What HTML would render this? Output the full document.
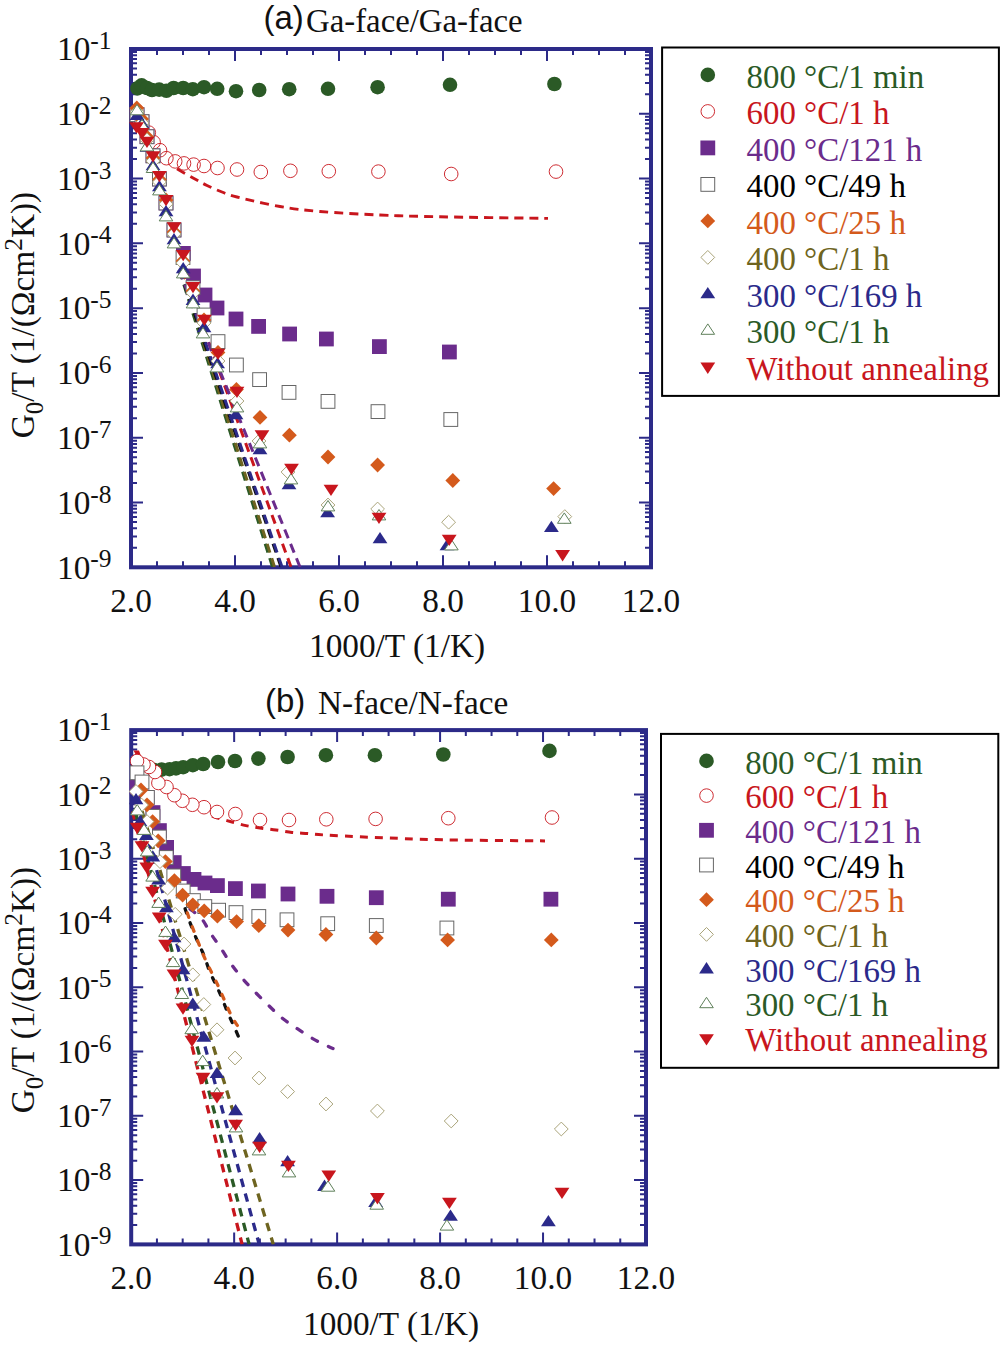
<!DOCTYPE html><html><head><meta charset="utf-8"><style>
html,body{margin:0;padding:0;background:#fff;}
svg{display:block}
.s{font-family:"Liberation Serif",serif;font-size:33.3px;fill:#111}
.ss{font-family:"Liberation Sans",sans-serif;font-size:33px;fill:#111}
.sup{font-size:25.5px} .lg{font-size:32.9px}
.sub{font-size:25px}
</style></head><body><svg width="1000" height="1345" viewBox="0 0 1000 1345">
<rect width="1000" height="1345" fill="#fff"/>
<rect x="662.1" y="47.5" width="336.80" height="348.40" fill="#fff" stroke="#000" stroke-width="2"/>
<circle cx="707.80" cy="74.90" r="7.30" fill="#2b5a26"/>
<text x="746.5" y="87.50" class="s lg" style="fill:#2b5a26">800 °C/1 min</text>
<circle cx="707.80" cy="111.40" r="6.80" fill="none" stroke="#c8161d" stroke-width="0.9"/>
<text x="746.5" y="124.00" class="s lg" style="fill:#c8161d">600 °C/1 h</text>
<rect x="700.40" y="140.50" width="14.80" height="14.80" fill="#6b2c8c"/>
<text x="746.5" y="160.50" class="s lg" style="fill:#6b2c8c">400 °C/121 h</text>
<rect x="700.90" y="177.50" width="13.80" height="13.80" fill="none" stroke="#666" stroke-width="1"/>
<text x="746.5" y="197.00" class="s lg" style="fill:#000">400 °C/49 h</text>
<path d="M707.80 213.50L715.20 220.90L707.80 228.30L700.40 220.90Z" fill="#d45a1c"/>
<text x="746.5" y="233.50" class="s lg" style="fill:#d45a1c">400 °C/25 h</text>
<path d="M707.80 250.50L714.70 257.40L707.80 264.30L700.90 257.40Z" fill="#fff" stroke="#aaa47a" stroke-width="1"/>
<text x="746.5" y="270.00" class="s lg" style="fill:#6e6420">400 °C/1 h</text>
<path d="M707.80 286.90L715.20 298.20L700.40 298.20Z" fill="#2b2a8a"/>
<text x="746.5" y="306.50" class="s lg" style="fill:#2b2a8a">300 °C/169 h</text>
<path d="M707.80 323.90L714.60 334.30L701.00 334.30Z" fill="#fff" stroke="#5f805a" stroke-width="1"/>
<text x="746.5" y="343.00" class="s lg" style="fill:#2b5a26">300 °C/1 h</text>
<path d="M707.80 373.90L715.20 362.60L700.40 362.60Z" fill="#c8161d"/>
<text x="746.5" y="379.50" class="s lg" style="fill:#c8161d">Without annealing</text>
<rect x="661" y="733.9" width="337.30" height="333.90" fill="#fff" stroke="#000" stroke-width="2"/>
<circle cx="706.50" cy="760.90" r="7.30" fill="#2b5a26"/>
<text x="745.2" y="773.50" class="s lg" style="fill:#2b5a26">800 °C/1 min</text>
<circle cx="706.50" cy="795.60" r="6.80" fill="none" stroke="#c8161d" stroke-width="0.9"/>
<text x="745.2" y="808.20" class="s lg" style="fill:#c8161d">600 °C/1 h</text>
<rect x="699.10" y="822.90" width="14.80" height="14.80" fill="#6b2c8c"/>
<text x="745.2" y="842.90" class="s lg" style="fill:#6b2c8c">400 °C/121 h</text>
<rect x="699.60" y="858.10" width="13.80" height="13.80" fill="none" stroke="#666" stroke-width="1"/>
<text x="745.2" y="877.60" class="s lg" style="fill:#000">400 °C/49 h</text>
<path d="M706.50 892.30L713.90 899.70L706.50 907.10L699.10 899.70Z" fill="#d45a1c"/>
<text x="745.2" y="912.30" class="s lg" style="fill:#d45a1c">400 °C/25 h</text>
<path d="M706.50 927.50L713.40 934.40L706.50 941.30L699.60 934.40Z" fill="#fff" stroke="#aaa47a" stroke-width="1"/>
<text x="745.2" y="947.00" class="s lg" style="fill:#6e6420">400 °C/1 h</text>
<path d="M706.50 962.10L713.90 973.40L699.10 973.40Z" fill="#2b2a8a"/>
<text x="745.2" y="981.70" class="s lg" style="fill:#2b2a8a">300 °C/169 h</text>
<path d="M706.50 997.30L713.30 1007.70L699.70 1007.70Z" fill="#fff" stroke="#5f805a" stroke-width="1"/>
<text x="745.2" y="1016.40" class="s lg" style="fill:#2b5a26">300 °C/1 h</text>
<path d="M706.50 1045.50L713.90 1034.20L699.10 1034.20Z" fill="#c8161d"/>
<text x="745.2" y="1051.10" class="s lg" style="fill:#c8161d">Without annealing</text>
<path d="M157.00 49v6M157.00 567.3v-6M183.00 49v6M183.00 567.3v-6M209.00 49v6M209.00 567.3v-6M235.00 49v12M235.00 567.3v-12M261.00 49v6M261.00 567.3v-6M287.00 49v6M287.00 567.3v-6M313.00 49v6M313.00 567.3v-6M339.00 49v12M339.00 567.3v-12M365.00 49v6M365.00 567.3v-6M391.00 49v6M391.00 567.3v-6M417.00 49v6M417.00 567.3v-6M443.00 49v12M443.00 567.3v-12M469.00 49v6M469.00 567.3v-6M495.00 49v6M495.00 567.3v-6M521.00 49v6M521.00 567.3v-6M547.00 49v12M547.00 567.3v-12M573.00 49v6M573.00 567.3v-6M599.00 49v6M599.00 567.3v-6M625.00 49v6M625.00 567.3v-6M131 547.80h6M651 547.80h-6M131 536.39h6M651 536.39h-6M131 528.29h6M651 528.29h-6M131 522.02h6M651 522.02h-6M131 516.89h6M651 516.89h-6M131 512.55h6M651 512.55h-6M131 508.79h6M651 508.79h-6M131 505.48h6M651 505.48h-6M131 502.51h12M651 502.51h-12M131 483.01h6M651 483.01h-6M131 471.60h6M651 471.60h-6M131 463.51h6M651 463.51h-6M131 457.23h6M651 457.23h-6M131 452.10h6M651 452.10h-6M131 447.76h6M651 447.76h-6M131 444.00h6M651 444.00h-6M131 440.69h6M651 440.69h-6M131 437.72h12M651 437.72h-12M131 418.22h6M651 418.22h-6M131 406.81h6M651 406.81h-6M131 398.72h6M651 398.72h-6M131 392.44h6M651 392.44h-6M131 387.31h6M651 387.31h-6M131 382.97h6M651 382.97h-6M131 379.22h6M651 379.22h-6M131 375.90h6M651 375.90h-6M131 372.94h12M651 372.94h-12M131 353.43h6M651 353.43h-6M131 342.03h6M651 342.03h-6M131 333.93h6M651 333.93h-6M131 327.65h6M651 327.65h-6M131 322.52h6M651 322.52h-6M131 318.19h6M651 318.19h-6M131 314.43h6M651 314.43h-6M131 311.11h6M651 311.11h-6M131 308.15h12M651 308.15h-12M131 288.65h6M651 288.65h-6M131 277.24h6M651 277.24h-6M131 269.14h6M651 269.14h-6M131 262.87h6M651 262.87h-6M131 257.74h6M651 257.74h-6M131 253.40h6M651 253.40h-6M131 249.64h6M651 249.64h-6M131 246.33h6M651 246.33h-6M131 243.36h12M651 243.36h-12M131 223.86h6M651 223.86h-6M131 212.45h6M651 212.45h-6M131 204.36h6M651 204.36h-6M131 198.08h6M651 198.08h-6M131 192.95h6M651 192.95h-6M131 188.61h6M651 188.61h-6M131 184.85h6M651 184.85h-6M131 181.54h6M651 181.54h-6M131 178.57h12M651 178.57h-12M131 159.07h6M651 159.07h-6M131 147.66h6M651 147.66h-6M131 139.57h6M651 139.57h-6M131 133.29h6M651 133.29h-6M131 128.16h6M651 128.16h-6M131 123.82h6M651 123.82h-6M131 120.07h6M651 120.07h-6M131 116.75h6M651 116.75h-6M131 113.79h12M651 113.79h-12M131 94.28h6M651 94.28h-6M131 82.88h6M651 82.88h-6M131 74.78h6M651 74.78h-6M131 68.50h6M651 68.50h-6M131 63.37h6M651 63.37h-6M131 59.04h6M651 59.04h-6M131 55.28h6M651 55.28h-6M131 51.96h6M651 51.96h-6" stroke="#2c2a88" stroke-width="2" fill="none"/>
<rect x="131" y="49" width="520.00" height="518.30" stroke="#2c2a88" stroke-width="4" fill="none"/>
<path d="M156.94 730.1v6M156.94 1244.4v-6M182.68 730.1v6M182.68 1244.4v-6M208.42 730.1v6M208.42 1244.4v-6M234.16 730.1v12M234.16 1244.4v-12M259.90 730.1v6M259.90 1244.4v-6M285.64 730.1v6M285.64 1244.4v-6M311.38 730.1v6M311.38 1244.4v-6M337.12 730.1v12M337.12 1244.4v-12M362.86 730.1v6M362.86 1244.4v-6M388.60 730.1v6M388.60 1244.4v-6M414.34 730.1v6M414.34 1244.4v-6M440.08 730.1v12M440.08 1244.4v-12M465.82 730.1v6M465.82 1244.4v-6M491.56 730.1v6M491.56 1244.4v-6M517.30 730.1v6M517.30 1244.4v-6M543.04 730.1v12M543.04 1244.4v-12M568.78 730.1v6M568.78 1244.4v-6M594.52 730.1v6M594.52 1244.4v-6M620.26 730.1v6M620.26 1244.4v-6M131.2 1225.05h6M646 1225.05h-6M131.2 1213.73h6M646 1213.73h-6M131.2 1205.70h6M646 1205.70h-6M131.2 1199.46h6M646 1199.46h-6M131.2 1194.37h6M646 1194.37h-6M131.2 1190.07h6M646 1190.07h-6M131.2 1186.34h6M646 1186.34h-6M131.2 1183.05h6M646 1183.05h-6M131.2 1180.11h12M646 1180.11h-12M131.2 1160.76h6M646 1160.76h-6M131.2 1149.44h6M646 1149.44h-6M131.2 1141.41h6M646 1141.41h-6M131.2 1135.18h6M646 1135.18h-6M131.2 1130.09h6M646 1130.09h-6M131.2 1125.78h6M646 1125.78h-6M131.2 1122.06h6M646 1122.06h-6M131.2 1118.77h6M646 1118.77h-6M131.2 1115.83h12M646 1115.83h-12M131.2 1096.47h6M646 1096.47h-6M131.2 1085.15h6M646 1085.15h-6M131.2 1077.12h6M646 1077.12h-6M131.2 1070.89h6M646 1070.89h-6M131.2 1065.80h6M646 1065.80h-6M131.2 1061.50h6M646 1061.50h-6M131.2 1057.77h6M646 1057.77h-6M131.2 1054.48h6M646 1054.48h-6M131.2 1051.54h12M646 1051.54h-12M131.2 1032.19h6M646 1032.19h-6M131.2 1020.86h6M646 1020.86h-6M131.2 1012.83h6M646 1012.83h-6M131.2 1006.60h6M646 1006.60h-6M131.2 1001.51h6M646 1001.51h-6M131.2 997.21h6M646 997.21h-6M131.2 993.48h6M646 993.48h-6M131.2 990.19h6M646 990.19h-6M131.2 987.25h12M646 987.25h-12M131.2 967.90h6M646 967.90h-6M131.2 956.58h6M646 956.58h-6M131.2 948.55h6M646 948.55h-6M131.2 942.31h6M646 942.31h-6M131.2 937.22h6M646 937.22h-6M131.2 932.92h6M646 932.92h-6M131.2 929.19h6M646 929.19h-6M131.2 925.90h6M646 925.90h-6M131.2 922.96h12M646 922.96h-12M131.2 903.61h6M646 903.61h-6M131.2 892.29h6M646 892.29h-6M131.2 884.26h6M646 884.26h-6M131.2 878.03h6M646 878.03h-6M131.2 872.94h6M646 872.94h-6M131.2 868.63h6M646 868.63h-6M131.2 864.91h6M646 864.91h-6M131.2 861.62h6M646 861.62h-6M131.2 858.68h12M646 858.68h-12M131.2 839.32h6M646 839.32h-6M131.2 828.00h6M646 828.00h-6M131.2 819.97h6M646 819.97h-6M131.2 813.74h6M646 813.74h-6M131.2 808.65h6M646 808.65h-6M131.2 804.35h6M646 804.35h-6M131.2 800.62h6M646 800.62h-6M131.2 797.33h6M646 797.33h-6M131.2 794.39h12M646 794.39h-12M131.2 775.04h6M646 775.04h-6M131.2 763.71h6M646 763.71h-6M131.2 755.68h6M646 755.68h-6M131.2 749.45h6M646 749.45h-6M131.2 744.36h6M646 744.36h-6M131.2 740.06h6M646 740.06h-6M131.2 736.33h6M646 736.33h-6M131.2 733.04h6M646 733.04h-6" stroke="#2c2a88" stroke-width="2" fill="none"/>
<rect x="131.2" y="730.1" width="514.80" height="514.30" stroke="#2c2a88" stroke-width="4" fill="none"/>
<clipPath id="ca"><rect x="129" y="47" width="524" height="520.3"/></clipPath><g clip-path="url(#ca)">
<path d="M179.31 270.2L272.50 567" stroke="#2b5a26" stroke-width="3.0" stroke-dasharray="9.12 5.97" stroke-dashoffset="0" fill="none"/>
<path d="M180.49 270.2L274.50 567" stroke="#6e6420" stroke-width="3.0" stroke-dasharray="9.13 5.98" stroke-dashoffset="0" fill="none"/>
<path d="M179.52 270.2L281.00 567" stroke="#111" stroke-width="3.0" stroke-dasharray="9.19 6.02" stroke-dashoffset="0" fill="none"/>
<path d="M180.86 270.2L282.00 567" stroke="#2b2a8a" stroke-width="3.0" stroke-dasharray="9.19 6.02" stroke-dashoffset="0" fill="none"/>
<path d="M182.39 270.2L291.00 567" stroke="#c8161d" stroke-width="3.0" stroke-dasharray="9.26 6.07" stroke-dashoffset="0" fill="none"/>
<path d="M178.79 270.2L300.00 567" stroke="#6b2c8c" stroke-width="3.0" stroke-dasharray="9.40 6.16" stroke-dashoffset="0" fill="none"/>
<path d="M172.00 166.00C173.17 166.67 175.33 167.92 179.00 170.00C182.67 172.08 189.33 175.92 194.00 178.50C198.67 181.08 202.33 183.25 207.00 185.50C211.67 187.75 217.00 190.08 222.00 192.00C227.00 193.92 227.33 194.58 237.00 197.00C246.67 199.42 266.17 204.08 280.00 206.50C293.83 208.92 303.33 210.08 320.00 211.50C336.67 212.92 360.00 214.12 380.00 215.00C400.00 215.88 412.00 216.23 440.00 216.80C468.00 217.37 530.00 218.13 548.00 218.40" stroke="#c8161d" stroke-width="2.9" stroke-dasharray="9 6" stroke-dashoffset="-6" fill="none"/>
<circle cx="137.50" cy="88.40" r="7.30" fill="#2b5a26"/>
<circle cx="141.60" cy="85.40" r="7.30" fill="#2b5a26"/>
<circle cx="147.00" cy="88.00" r="7.30" fill="#2b5a26"/>
<circle cx="152.00" cy="90.00" r="7.30" fill="#2b5a26"/>
<circle cx="159.20" cy="89.60" r="7.30" fill="#2b5a26"/>
<circle cx="166.40" cy="90.80" r="7.30" fill="#2b5a26"/>
<circle cx="173.60" cy="88.00" r="7.30" fill="#2b5a26"/>
<circle cx="183.20" cy="88.00" r="7.30" fill="#2b5a26"/>
<circle cx="192.80" cy="89.20" r="7.30" fill="#2b5a26"/>
<circle cx="204.00" cy="87.20" r="7.30" fill="#2b5a26"/>
<circle cx="217.20" cy="88.80" r="7.30" fill="#2b5a26"/>
<circle cx="236.00" cy="91.20" r="7.30" fill="#2b5a26"/>
<circle cx="259.20" cy="90.00" r="7.30" fill="#2b5a26"/>
<circle cx="289.20" cy="89.20" r="7.30" fill="#2b5a26"/>
<circle cx="328.00" cy="88.80" r="7.30" fill="#2b5a26"/>
<circle cx="377.60" cy="87.20" r="7.30" fill="#2b5a26"/>
<circle cx="450.00" cy="84.80" r="7.30" fill="#2b5a26"/>
<circle cx="554.40" cy="84.00" r="7.30" fill="#2b5a26"/>
<circle cx="137.00" cy="111.00" r="6.80" fill="none" stroke="#c8161d" stroke-width="0.9"/>
<circle cx="142.00" cy="121.00" r="6.80" fill="none" stroke="#c8161d" stroke-width="0.9"/>
<circle cx="148.80" cy="132.60" r="6.80" fill="none" stroke="#c8161d" stroke-width="0.9"/>
<circle cx="153.60" cy="142.20" r="6.80" fill="none" stroke="#c8161d" stroke-width="0.9"/>
<circle cx="160.00" cy="150.20" r="6.80" fill="none" stroke="#c8161d" stroke-width="0.9"/>
<circle cx="166.40" cy="158.20" r="6.80" fill="none" stroke="#c8161d" stroke-width="0.9"/>
<circle cx="175.20" cy="161.40" r="6.80" fill="none" stroke="#c8161d" stroke-width="0.9"/>
<circle cx="184.00" cy="163.40" r="6.80" fill="none" stroke="#c8161d" stroke-width="0.9"/>
<circle cx="193.60" cy="164.60" r="6.80" fill="none" stroke="#c8161d" stroke-width="0.9"/>
<circle cx="204.00" cy="166.00" r="6.80" fill="none" stroke="#c8161d" stroke-width="0.9"/>
<circle cx="217.50" cy="168.00" r="6.80" fill="none" stroke="#c8161d" stroke-width="0.9"/>
<circle cx="237.00" cy="169.50" r="6.80" fill="none" stroke="#c8161d" stroke-width="0.9"/>
<circle cx="260.80" cy="172.00" r="6.80" fill="none" stroke="#c8161d" stroke-width="0.9"/>
<circle cx="290.40" cy="170.80" r="6.80" fill="none" stroke="#c8161d" stroke-width="0.9"/>
<circle cx="328.80" cy="171.20" r="6.80" fill="none" stroke="#c8161d" stroke-width="0.9"/>
<circle cx="378.40" cy="171.60" r="6.80" fill="none" stroke="#c8161d" stroke-width="0.9"/>
<circle cx="451.20" cy="174.00" r="6.80" fill="none" stroke="#c8161d" stroke-width="0.9"/>
<circle cx="556.00" cy="171.60" r="6.80" fill="none" stroke="#c8161d" stroke-width="0.9"/>
<rect x="129.60" y="107.30" width="14.80" height="14.80" fill="#6b2c8c"/>
<rect x="134.60" y="114.30" width="14.80" height="14.80" fill="#6b2c8c"/>
<rect x="139.60" y="129.30" width="14.80" height="14.80" fill="#6b2c8c"/>
<rect x="145.60" y="148.40" width="14.80" height="14.80" fill="#6b2c8c"/>
<rect x="152.00" y="171.60" width="14.80" height="14.80" fill="#6b2c8c"/>
<rect x="158.60" y="195.60" width="14.80" height="14.80" fill="#6b2c8c"/>
<rect x="166.60" y="222.60" width="14.80" height="14.80" fill="#6b2c8c"/>
<rect x="176.00" y="246.00" width="14.80" height="14.80" fill="#6b2c8c"/>
<rect x="186.10" y="268.60" width="14.80" height="14.80" fill="#6b2c8c"/>
<rect x="197.60" y="287.60" width="14.80" height="14.80" fill="#6b2c8c"/>
<rect x="209.60" y="300.60" width="14.80" height="14.80" fill="#6b2c8c"/>
<rect x="228.60" y="311.60" width="14.80" height="14.80" fill="#6b2c8c"/>
<rect x="251.20" y="319.00" width="14.80" height="14.80" fill="#6b2c8c"/>
<rect x="282.20" y="326.60" width="14.80" height="14.80" fill="#6b2c8c"/>
<rect x="319.00" y="331.60" width="14.80" height="14.80" fill="#6b2c8c"/>
<rect x="372.00" y="339.20" width="14.80" height="14.80" fill="#6b2c8c"/>
<rect x="442.00" y="344.60" width="14.80" height="14.80" fill="#6b2c8c"/>
<rect x="130.10" y="107.80" width="13.80" height="13.80" fill="#fff" stroke="#666" stroke-width="1"/>
<rect x="135.10" y="114.80" width="13.80" height="13.80" fill="#fff" stroke="#666" stroke-width="1"/>
<rect x="140.10" y="129.80" width="13.80" height="13.80" fill="#fff" stroke="#666" stroke-width="1"/>
<rect x="146.10" y="148.90" width="13.80" height="13.80" fill="#fff" stroke="#666" stroke-width="1"/>
<rect x="152.50" y="172.10" width="13.80" height="13.80" fill="#fff" stroke="#666" stroke-width="1"/>
<rect x="159.10" y="196.10" width="13.80" height="13.80" fill="#fff" stroke="#666" stroke-width="1"/>
<rect x="167.10" y="223.10" width="13.80" height="13.80" fill="#fff" stroke="#666" stroke-width="1"/>
<rect x="176.10" y="250.60" width="13.80" height="13.80" fill="#fff" stroke="#666" stroke-width="1"/>
<rect x="186.10" y="280.80" width="13.80" height="13.80" fill="#fff" stroke="#666" stroke-width="1"/>
<rect x="197.10" y="308.10" width="13.80" height="13.80" fill="#fff" stroke="#666" stroke-width="1"/>
<rect x="211.10" y="334.70" width="13.80" height="13.80" fill="#fff" stroke="#666" stroke-width="1"/>
<rect x="229.50" y="358.10" width="13.80" height="13.80" fill="#fff" stroke="#666" stroke-width="1"/>
<rect x="252.70" y="372.70" width="13.80" height="13.80" fill="#fff" stroke="#666" stroke-width="1"/>
<rect x="282.10" y="385.50" width="13.80" height="13.80" fill="#fff" stroke="#666" stroke-width="1"/>
<rect x="321.10" y="394.50" width="13.80" height="13.80" fill="#fff" stroke="#666" stroke-width="1"/>
<rect x="371.10" y="404.70" width="13.80" height="13.80" fill="#fff" stroke="#666" stroke-width="1"/>
<rect x="443.90" y="412.60" width="13.80" height="13.80" fill="#fff" stroke="#666" stroke-width="1"/>
<path d="M136.80 100.60L144.20 108.00L136.80 115.40L129.40 108.00Z" fill="#d45a1c"/>
<path d="M141.60 111.60L149.00 119.00L141.60 126.40L134.20 119.00Z" fill="#d45a1c"/>
<path d="M147.00 129.60L154.40 137.00L147.00 144.40L139.60 137.00Z" fill="#d45a1c"/>
<path d="M153.00 150.60L160.40 158.00L153.00 165.40L145.60 158.00Z" fill="#d45a1c"/>
<path d="M159.40 172.00L166.80 179.40L159.40 186.80L152.00 179.40Z" fill="#d45a1c"/>
<path d="M166.00 192.60L173.40 200.00L166.00 207.40L158.60 200.00Z" fill="#d45a1c"/>
<path d="M174.00 224.60L181.40 232.00L174.00 239.40L166.60 232.00Z" fill="#d45a1c"/>
<path d="M183.00 253.60L190.40 261.00L183.00 268.40L175.60 261.00Z" fill="#d45a1c"/>
<path d="M193.00 283.60L200.40 291.00L193.00 298.40L185.60 291.00Z" fill="#d45a1c"/>
<path d="M204.00 312.60L211.40 320.00L204.00 327.40L196.60 320.00Z" fill="#d45a1c"/>
<path d="M218.00 345.00L225.40 352.40L218.00 359.80L210.60 352.40Z" fill="#d45a1c"/>
<path d="M236.40 382.00L243.80 389.40L236.40 396.80L229.00 389.40Z" fill="#d45a1c"/>
<path d="M260.00 410.00L267.40 417.40L260.00 424.80L252.60 417.40Z" fill="#d45a1c"/>
<path d="M289.40 427.80L296.80 435.20L289.40 442.60L282.00 435.20Z" fill="#d45a1c"/>
<path d="M328.00 449.60L335.40 457.00L328.00 464.40L320.60 457.00Z" fill="#d45a1c"/>
<path d="M377.60 457.60L385.00 465.00L377.60 472.40L370.20 465.00Z" fill="#d45a1c"/>
<path d="M452.80 473.10L460.20 480.50L452.80 487.90L445.40 480.50Z" fill="#d45a1c"/>
<path d="M553.60 481.20L561.00 488.60L553.60 496.00L546.20 488.60Z" fill="#d45a1c"/>
<path d="M137.00 105.10L143.90 112.00L137.00 118.90L130.10 112.00Z" fill="#fff" stroke="#aaa47a" stroke-width="1"/>
<path d="M142.00 116.10L148.90 123.00L142.00 129.90L135.10 123.00Z" fill="#fff" stroke="#aaa47a" stroke-width="1"/>
<path d="M147.00 133.10L153.90 140.00L147.00 146.90L140.10 140.00Z" fill="#fff" stroke="#aaa47a" stroke-width="1"/>
<path d="M153.00 154.10L159.90 161.00L153.00 167.90L146.10 161.00Z" fill="#fff" stroke="#aaa47a" stroke-width="1"/>
<path d="M159.40 175.10L166.30 182.00L159.40 188.90L152.50 182.00Z" fill="#fff" stroke="#aaa47a" stroke-width="1"/>
<path d="M166.00 197.10L172.90 204.00L166.00 210.90L159.10 204.00Z" fill="#fff" stroke="#aaa47a" stroke-width="1"/>
<path d="M174.00 227.10L180.90 234.00L174.00 240.90L167.10 234.00Z" fill="#fff" stroke="#aaa47a" stroke-width="1"/>
<path d="M183.00 256.10L189.90 263.00L183.00 269.90L176.10 263.00Z" fill="#fff" stroke="#aaa47a" stroke-width="1"/>
<path d="M193.00 286.10L199.90 293.00L193.00 299.90L186.10 293.00Z" fill="#fff" stroke="#aaa47a" stroke-width="1"/>
<path d="M204.00 316.10L210.90 323.00L204.00 329.90L197.10 323.00Z" fill="#fff" stroke="#aaa47a" stroke-width="1"/>
<path d="M218.00 354.10L224.90 361.00L218.00 367.90L211.10 361.00Z" fill="#fff" stroke="#aaa47a" stroke-width="1"/>
<path d="M237.00 394.10L243.90 401.00L237.00 407.90L230.10 401.00Z" fill="#fff" stroke="#aaa47a" stroke-width="1"/>
<path d="M259.00 434.10L265.90 441.00L259.00 447.90L252.10 441.00Z" fill="#fff" stroke="#aaa47a" stroke-width="1"/>
<path d="M288.00 465.10L294.90 472.00L288.00 478.90L281.10 472.00Z" fill="#fff" stroke="#aaa47a" stroke-width="1"/>
<path d="M328.00 498.10L334.90 505.00L328.00 511.90L321.10 505.00Z" fill="#fff" stroke="#aaa47a" stroke-width="1"/>
<path d="M377.60 502.10L384.50 509.00L377.60 515.90L370.70 509.00Z" fill="#fff" stroke="#aaa47a" stroke-width="1"/>
<path d="M448.60 515.30L455.50 522.20L448.60 529.10L441.70 522.20Z" fill="#fff" stroke="#aaa47a" stroke-width="1"/>
<path d="M564.80 509.70L571.70 516.60L564.80 523.50L557.90 516.60Z" fill="#fff" stroke="#aaa47a" stroke-width="1"/>
<path d="M137.00 108.70L144.40 120.00L129.60 120.00Z" fill="#2b2a8a"/>
<path d="M142.00 117.00L149.40 128.30L134.60 128.30Z" fill="#2b2a8a"/>
<path d="M147.00 140.50L154.40 151.80L139.60 151.80Z" fill="#2b2a8a"/>
<path d="M153.00 159.00L160.40 170.30L145.60 170.30Z" fill="#2b2a8a"/>
<path d="M159.40 180.00L166.80 191.30L152.00 191.30Z" fill="#2b2a8a"/>
<path d="M166.00 205.00L173.40 216.30L158.60 216.30Z" fill="#2b2a8a"/>
<path d="M174.00 233.00L181.40 244.30L166.60 244.30Z" fill="#2b2a8a"/>
<path d="M183.20 262.00L190.60 273.30L175.80 273.30Z" fill="#2b2a8a"/>
<path d="M193.00 293.60L200.40 304.90L185.60 304.90Z" fill="#2b2a8a"/>
<path d="M204.00 321.00L211.40 332.30L196.60 332.30Z" fill="#2b2a8a"/>
<path d="M217.60 357.00L225.00 368.30L210.20 368.30Z" fill="#2b2a8a"/>
<path d="M236.00 408.00L243.40 419.30L228.60 419.30Z" fill="#2b2a8a"/>
<path d="M260.00 443.00L267.40 454.30L252.60 454.30Z" fill="#2b2a8a"/>
<path d="M289.00 478.00L296.40 489.30L281.60 489.30Z" fill="#2b2a8a"/>
<path d="M327.60 506.00L335.00 517.30L320.20 517.30Z" fill="#2b2a8a"/>
<path d="M380.00 532.00L387.40 543.30L372.60 543.30Z" fill="#2b2a8a"/>
<path d="M447.00 539.00L454.40 550.30L439.60 550.30Z" fill="#2b2a8a"/>
<path d="M551.40 520.80L558.80 532.10L544.00 532.10Z" fill="#2b2a8a"/>
<path d="M137.00 104.40L143.80 114.80L130.20 114.80Z" fill="#fff" stroke="#5f805a" stroke-width="1"/>
<path d="M142.00 119.50L148.80 129.90L135.20 129.90Z" fill="#fff" stroke="#5f805a" stroke-width="1"/>
<path d="M147.00 140.50L153.80 150.90L140.20 150.90Z" fill="#fff" stroke="#5f805a" stroke-width="1"/>
<path d="M153.00 162.10L159.80 172.50L146.20 172.50Z" fill="#fff" stroke="#5f805a" stroke-width="1"/>
<path d="M159.40 184.50L166.20 194.90L152.60 194.90Z" fill="#fff" stroke="#5f805a" stroke-width="1"/>
<path d="M166.00 210.50L172.80 220.90L159.20 220.90Z" fill="#fff" stroke="#5f805a" stroke-width="1"/>
<path d="M174.00 237.50L180.80 247.90L167.20 247.90Z" fill="#fff" stroke="#5f805a" stroke-width="1"/>
<path d="M183.20 267.50L190.00 277.90L176.40 277.90Z" fill="#fff" stroke="#5f805a" stroke-width="1"/>
<path d="M193.00 297.50L199.80 307.90L186.20 307.90Z" fill="#fff" stroke="#5f805a" stroke-width="1"/>
<path d="M203.00 327.50L209.80 337.90L196.20 337.90Z" fill="#fff" stroke="#5f805a" stroke-width="1"/>
<path d="M217.00 361.50L223.80 371.90L210.20 371.90Z" fill="#fff" stroke="#5f805a" stroke-width="1"/>
<path d="M237.00 401.50L243.80 411.90L230.20 411.90Z" fill="#fff" stroke="#5f805a" stroke-width="1"/>
<path d="M260.00 437.50L266.80 447.90L253.20 447.90Z" fill="#fff" stroke="#5f805a" stroke-width="1"/>
<path d="M291.00 473.50L297.80 483.90L284.20 483.90Z" fill="#fff" stroke="#5f805a" stroke-width="1"/>
<path d="M328.00 500.50L334.80 510.90L321.20 510.90Z" fill="#fff" stroke="#5f805a" stroke-width="1"/>
<path d="M379.00 509.50L385.80 519.90L372.20 519.90Z" fill="#fff" stroke="#5f805a" stroke-width="1"/>
<path d="M451.40 539.50L458.20 549.90L444.60 549.90Z" fill="#fff" stroke="#5f805a" stroke-width="1"/>
<path d="M564.30 512.90L571.10 523.30L557.50 523.30Z" fill="#fff" stroke="#5f805a" stroke-width="1"/>
<path d="M136.50 133.50L143.90 122.20L129.10 122.20Z" fill="#c8161d"/>
<path d="M142.00 139.30L149.40 128.00L134.60 128.00Z" fill="#c8161d"/>
<path d="M147.00 148.00L154.40 136.70L139.60 136.70Z" fill="#c8161d"/>
<path d="M153.00 162.50L160.40 151.20L145.60 151.20Z" fill="#c8161d"/>
<path d="M159.40 182.30L166.80 171.00L152.00 171.00Z" fill="#c8161d"/>
<path d="M166.00 206.30L173.40 195.00L158.60 195.00Z" fill="#c8161d"/>
<path d="M174.00 233.50L181.40 222.20L166.60 222.20Z" fill="#c8161d"/>
<path d="M183.20 261.30L190.60 250.00L175.80 250.00Z" fill="#c8161d"/>
<path d="M193.00 293.30L200.40 282.00L185.60 282.00Z" fill="#c8161d"/>
<path d="M204.40 326.00L211.80 314.70L197.00 314.70Z" fill="#c8161d"/>
<path d="M218.00 360.00L225.40 348.70L210.60 348.70Z" fill="#c8161d"/>
<path d="M237.00 398.00L244.40 386.70L229.60 386.70Z" fill="#c8161d"/>
<path d="M262.00 441.50L269.40 430.20L254.60 430.20Z" fill="#c8161d"/>
<path d="M291.50 475.00L298.90 463.70L284.10 463.70Z" fill="#c8161d"/>
<path d="M331.00 496.00L338.40 484.70L323.60 484.70Z" fill="#c8161d"/>
<path d="M379.00 524.00L386.40 512.70L371.60 512.70Z" fill="#c8161d"/>
<path d="M449.20 546.00L456.60 534.70L441.80 534.70Z" fill="#c8161d"/>
<path d="M562.60 561.40L570.00 550.10L555.20 550.10Z" fill="#c8161d"/>
</g>
<clipPath id="cb"><rect x="129.2" y="728.1" width="518.8" height="516.3"/></clipPath><g clip-path="url(#cb)">
<path d="M132.54 811.3L242.11 1244.4" stroke="#c8161d" stroke-width="3.3" stroke-dasharray="8.46 6.70" fill="none"/>
<path d="M135.25 811.3L249.16 1244.4" stroke="#2b5a26" stroke-width="3.3" stroke-dasharray="8.48 6.72" fill="none"/>
<path d="M140.54 811.3L259.21 1244.4" stroke="#2b2a8a" stroke-width="3.3" stroke-dasharray="8.50 6.74" fill="none"/>
<path d="M142.10 811.3L273.33 1244.4" stroke="#6e6420" stroke-width="3.3" stroke-dasharray="8.57 6.79" fill="none"/>
<path d="M190.00 909.00C191.93 910.62 198.20 914.70 201.60 918.70C205.00 922.70 207.28 928.23 210.40 933.00C213.52 937.77 217.00 942.35 220.30 947.30C223.60 952.25 226.72 957.75 230.20 962.70C233.68 967.65 237.35 972.42 241.20 977.00C245.05 981.58 248.72 985.43 253.30 990.20C257.88 994.97 263.75 1000.83 268.70 1005.60C273.65 1010.37 278.23 1014.95 283.00 1018.80C287.77 1022.65 292.35 1025.40 297.30 1028.70C302.25 1032.00 307.57 1035.67 312.70 1038.60C317.83 1041.53 324.72 1044.65 328.10 1046.30C331.48 1047.95 332.18 1048.13 333.00 1048.50" stroke="#6b2c8c" stroke-width="3.3" stroke-dasharray="6 12" stroke-linecap="round" fill="none"/>
<path d="M185.10 908.80C186.02 911.37 188.58 918.88 190.60 924.20C192.62 929.52 195.00 935.57 197.20 940.70C199.40 945.83 201.78 950.05 203.80 955.00C205.82 959.95 207.28 965.45 209.30 970.40C211.32 975.35 213.88 980.30 215.90 984.70C217.92 989.10 219.38 992.03 221.40 996.80C223.42 1001.57 225.80 1008.17 228.00 1013.30C230.20 1018.43 232.40 1022.65 234.60 1027.60C236.80 1032.55 240.10 1040.43 241.20 1043.00" stroke="#111" stroke-width="3.3" stroke-dasharray="4.8 10" stroke-linecap="round" fill="none"/>
<path d="M187.00 912.00C187.78 914.22 188.90 917.97 191.70 925.30C194.50 932.63 199.40 945.92 203.80 956.00C208.20 966.08 213.52 975.88 218.10 985.80C222.68 995.72 227.45 1007.97 231.30 1015.50C235.15 1023.03 239.55 1028.42 241.20 1031.00" stroke="#d45a1c" stroke-width="3.3" stroke-dasharray="4.8 10" stroke-dashoffset="-1" stroke-linecap="round" fill="none"/>
<path d="M212.00 816.00C213.00 816.33 214.67 817.00 218.00 818.00C221.33 819.00 227.33 820.73 232.00 822.00C236.67 823.27 241.33 824.60 246.00 825.60C250.67 826.60 255.00 827.27 260.00 828.00C265.00 828.73 270.67 829.27 276.00 830.00C281.33 830.73 286.67 831.80 292.00 832.40C297.33 833.00 302.50 833.17 308.00 833.60C313.50 834.03 314.33 834.38 325.00 835.00C335.67 835.62 352.17 836.50 372.00 837.30C391.83 838.10 415.17 839.20 444.00 839.80C472.83 840.40 528.17 840.72 545.00 840.90" stroke="#c8161d" stroke-width="3" stroke-dasharray="8 7" fill="none"/>
<circle cx="154.00" cy="770.00" r="7.30" fill="#2b5a26"/>
<circle cx="161.60" cy="769.60" r="7.30" fill="#2b5a26"/>
<circle cx="169.60" cy="769.20" r="7.30" fill="#2b5a26"/>
<circle cx="176.00" cy="768.40" r="7.30" fill="#2b5a26"/>
<circle cx="183.20" cy="767.20" r="7.30" fill="#2b5a26"/>
<circle cx="192.80" cy="765.20" r="7.30" fill="#2b5a26"/>
<circle cx="203.20" cy="764.00" r="7.30" fill="#2b5a26"/>
<circle cx="218.00" cy="762.00" r="7.30" fill="#2b5a26"/>
<circle cx="235.00" cy="761.00" r="7.30" fill="#2b5a26"/>
<circle cx="258.40" cy="758.60" r="7.30" fill="#2b5a26"/>
<circle cx="287.60" cy="757.00" r="7.30" fill="#2b5a26"/>
<circle cx="325.90" cy="755.20" r="7.30" fill="#2b5a26"/>
<circle cx="374.90" cy="755.20" r="7.30" fill="#2b5a26"/>
<circle cx="443.30" cy="754.50" r="7.30" fill="#2b5a26"/>
<circle cx="549.50" cy="750.90" r="7.30" fill="#2b5a26"/>
<path d="M133.5 750.5L139 750.5L141 756L137 757Z" fill="#c8161d"/>
<circle cx="552.00" cy="817.50" r="6.80" fill="#fff" stroke="#c8161d" stroke-width="0.9"/>
<circle cx="448.30" cy="818.20" r="6.80" fill="#fff" stroke="#c8161d" stroke-width="0.9"/>
<circle cx="375.60" cy="818.90" r="6.80" fill="#fff" stroke="#c8161d" stroke-width="0.9"/>
<circle cx="326.30" cy="819.30" r="6.80" fill="#fff" stroke="#c8161d" stroke-width="0.9"/>
<circle cx="289.00" cy="820.00" r="6.80" fill="#fff" stroke="#c8161d" stroke-width="0.9"/>
<circle cx="260.00" cy="820.00" r="6.80" fill="#fff" stroke="#c8161d" stroke-width="0.9"/>
<circle cx="235.40" cy="814.00" r="6.80" fill="#fff" stroke="#c8161d" stroke-width="0.9"/>
<circle cx="217.00" cy="812.00" r="6.80" fill="#fff" stroke="#c8161d" stroke-width="0.9"/>
<circle cx="204.00" cy="807.20" r="6.80" fill="#fff" stroke="#c8161d" stroke-width="0.9"/>
<circle cx="192.40" cy="804.80" r="6.80" fill="#fff" stroke="#c8161d" stroke-width="0.9"/>
<circle cx="182.40" cy="800.80" r="6.80" fill="#fff" stroke="#c8161d" stroke-width="0.9"/>
<circle cx="174.40" cy="795.20" r="6.80" fill="#fff" stroke="#c8161d" stroke-width="0.9"/>
<circle cx="166.50" cy="787.00" r="6.80" fill="#fff" stroke="#c8161d" stroke-width="0.9"/>
<circle cx="158.40" cy="783.00" r="6.80" fill="#fff" stroke="#c8161d" stroke-width="0.9"/>
<circle cx="155.00" cy="772.00" r="6.80" fill="#fff" stroke="#c8161d" stroke-width="0.9"/>
<circle cx="149.00" cy="767.00" r="6.80" fill="#fff" stroke="#c8161d" stroke-width="0.9"/>
<circle cx="143.50" cy="764.50" r="6.80" fill="#fff" stroke="#c8161d" stroke-width="0.9"/>
<circle cx="137.00" cy="761.00" r="6.80" fill="#fff" stroke="#c8161d" stroke-width="0.9"/>
<rect x="129.60" y="779.60" width="14.80" height="14.80" fill="#6b2c8c"/>
<rect x="134.60" y="789.60" width="14.80" height="14.80" fill="#6b2c8c"/>
<rect x="139.60" y="790.00" width="14.80" height="14.80" fill="#6b2c8c"/>
<rect x="145.60" y="805.20" width="14.80" height="14.80" fill="#6b2c8c"/>
<rect x="152.00" y="823.20" width="14.80" height="14.80" fill="#6b2c8c"/>
<rect x="159.20" y="840.00" width="14.80" height="14.80" fill="#6b2c8c"/>
<rect x="166.80" y="855.20" width="14.80" height="14.80" fill="#6b2c8c"/>
<rect x="176.00" y="866.10" width="14.80" height="14.80" fill="#6b2c8c"/>
<rect x="186.60" y="872.00" width="14.80" height="14.80" fill="#6b2c8c"/>
<rect x="197.60" y="875.60" width="14.80" height="14.80" fill="#6b2c8c"/>
<rect x="210.00" y="878.20" width="14.80" height="14.80" fill="#6b2c8c"/>
<rect x="228.00" y="881.20" width="14.80" height="14.80" fill="#6b2c8c"/>
<rect x="251.00" y="883.60" width="14.80" height="14.80" fill="#6b2c8c"/>
<rect x="280.60" y="886.60" width="14.80" height="14.80" fill="#6b2c8c"/>
<rect x="319.60" y="888.90" width="14.80" height="14.80" fill="#6b2c8c"/>
<rect x="368.90" y="890.30" width="14.80" height="14.80" fill="#6b2c8c"/>
<rect x="440.90" y="891.80" width="14.80" height="14.80" fill="#6b2c8c"/>
<rect x="543.50" y="891.80" width="14.80" height="14.80" fill="#6b2c8c"/>
<rect x="130.10" y="765.90" width="13.80" height="13.80" fill="#fff" stroke="#666" stroke-width="1"/>
<rect x="135.10" y="775.10" width="13.80" height="13.80" fill="#fff" stroke="#666" stroke-width="1"/>
<rect x="140.50" y="790.50" width="13.80" height="13.80" fill="#fff" stroke="#666" stroke-width="1"/>
<rect x="146.10" y="809.40" width="13.80" height="13.80" fill="#fff" stroke="#666" stroke-width="1"/>
<rect x="152.50" y="830.10" width="13.80" height="13.80" fill="#fff" stroke="#666" stroke-width="1"/>
<rect x="159.30" y="850.60" width="13.80" height="13.80" fill="#fff" stroke="#666" stroke-width="1"/>
<rect x="166.90" y="869.00" width="13.80" height="13.80" fill="#fff" stroke="#666" stroke-width="1"/>
<rect x="176.30" y="884.10" width="13.80" height="13.80" fill="#fff" stroke="#666" stroke-width="1"/>
<rect x="186.50" y="893.70" width="13.80" height="13.80" fill="#fff" stroke="#666" stroke-width="1"/>
<rect x="197.90" y="899.70" width="13.80" height="13.80" fill="#fff" stroke="#666" stroke-width="1"/>
<rect x="211.70" y="903.30" width="13.80" height="13.80" fill="#fff" stroke="#666" stroke-width="1"/>
<rect x="229.10" y="905.70" width="13.80" height="13.80" fill="#fff" stroke="#666" stroke-width="1"/>
<rect x="251.90" y="909.60" width="13.80" height="13.80" fill="#fff" stroke="#666" stroke-width="1"/>
<rect x="280.10" y="912.90" width="13.80" height="13.80" fill="#fff" stroke="#666" stroke-width="1"/>
<rect x="320.80" y="916.80" width="13.80" height="13.80" fill="#fff" stroke="#666" stroke-width="1"/>
<rect x="369.40" y="918.60" width="13.80" height="13.80" fill="#fff" stroke="#666" stroke-width="1"/>
<rect x="440.00" y="921.10" width="13.80" height="13.80" fill="#fff" stroke="#666" stroke-width="1"/>
<path d="M141.00 782.60L148.40 790.00L141.00 797.40L133.60 790.00Z" fill="#d45a1c"/>
<path d="M147.00 797.40L154.40 804.80L147.00 812.20L139.60 804.80Z" fill="#d45a1c"/>
<path d="M152.60 814.20L160.00 821.60L152.60 829.00L145.20 821.60Z" fill="#d45a1c"/>
<path d="M158.20 833.40L165.60 840.80L158.20 848.20L150.80 840.80Z" fill="#d45a1c"/>
<path d="M165.40 854.20L172.80 861.60L165.40 869.00L158.00 861.60Z" fill="#d45a1c"/>
<path d="M174.40 873.20L181.80 880.60L174.40 888.00L167.00 880.60Z" fill="#d45a1c"/>
<path d="M182.60 887.80L190.00 895.20L182.60 902.60L175.20 895.20Z" fill="#d45a1c"/>
<path d="M192.80 897.40L200.20 904.80L192.80 912.20L185.40 904.80Z" fill="#d45a1c"/>
<path d="M204.20 903.40L211.60 910.80L204.20 918.20L196.80 910.80Z" fill="#d45a1c"/>
<path d="M217.40 908.80L224.80 916.20L217.40 923.60L210.00 916.20Z" fill="#d45a1c"/>
<path d="M236.60 914.20L244.00 921.60L236.60 929.00L229.20 921.60Z" fill="#d45a1c"/>
<path d="M258.80 918.30L266.20 925.70L258.80 933.10L251.40 925.70Z" fill="#d45a1c"/>
<path d="M288.00 922.70L295.40 930.10L288.00 937.50L280.60 930.10Z" fill="#d45a1c"/>
<path d="M325.90 927.10L333.30 934.50L325.90 941.90L318.50 934.50Z" fill="#d45a1c"/>
<path d="M376.30 930.60L383.70 938.00L376.30 945.40L368.90 938.00Z" fill="#d45a1c"/>
<path d="M447.60 932.50L455.00 939.90L447.60 947.30L440.20 939.90Z" fill="#d45a1c"/>
<path d="M551.30 932.50L558.70 939.90L551.30 947.30L543.90 939.90Z" fill="#d45a1c"/>
<path d="M136.00 784.60L142.90 791.50L136.00 798.40L129.10 791.50Z" fill="#fff" stroke="#aaa47a" stroke-width="1"/>
<path d="M141.50 798.10L148.40 805.00L141.50 811.90L134.60 805.00Z" fill="#fff" stroke="#aaa47a" stroke-width="1"/>
<path d="M147.00 814.70L153.90 821.60L147.00 828.50L140.10 821.60Z" fill="#fff" stroke="#aaa47a" stroke-width="1"/>
<path d="M152.70 833.90L159.60 840.80L152.70 847.70L145.80 840.80Z" fill="#fff" stroke="#aaa47a" stroke-width="1"/>
<path d="M160.00 854.70L166.90 861.60L160.00 868.50L153.10 861.60Z" fill="#fff" stroke="#aaa47a" stroke-width="1"/>
<path d="M167.60 881.10L174.50 888.00L167.60 894.90L160.70 888.00Z" fill="#fff" stroke="#aaa47a" stroke-width="1"/>
<path d="M175.20 907.40L182.10 914.30L175.20 921.20L168.30 914.30Z" fill="#fff" stroke="#aaa47a" stroke-width="1"/>
<path d="M184.00 937.10L190.90 944.00L184.00 950.90L177.10 944.00Z" fill="#fff" stroke="#aaa47a" stroke-width="1"/>
<path d="M192.80 967.90L199.70 974.80L192.80 981.70L185.90 974.80Z" fill="#fff" stroke="#aaa47a" stroke-width="1"/>
<path d="M203.80 997.60L210.70 1004.50L203.80 1011.40L196.90 1004.50Z" fill="#fff" stroke="#aaa47a" stroke-width="1"/>
<path d="M217.00 1022.90L223.90 1029.80L217.00 1036.70L210.10 1029.80Z" fill="#fff" stroke="#aaa47a" stroke-width="1"/>
<path d="M235.00 1051.10L241.90 1058.00L235.00 1064.90L228.10 1058.00Z" fill="#fff" stroke="#aaa47a" stroke-width="1"/>
<path d="M259.00 1071.10L265.90 1078.00L259.00 1084.90L252.10 1078.00Z" fill="#fff" stroke="#aaa47a" stroke-width="1"/>
<path d="M287.60 1084.70L294.50 1091.60L287.60 1098.50L280.70 1091.60Z" fill="#fff" stroke="#aaa47a" stroke-width="1"/>
<path d="M326.00 1097.10L332.90 1104.00L326.00 1110.90L319.10 1104.00Z" fill="#fff" stroke="#aaa47a" stroke-width="1"/>
<path d="M377.40 1104.10L384.30 1111.00L377.40 1117.90L370.50 1111.00Z" fill="#fff" stroke="#aaa47a" stroke-width="1"/>
<path d="M451.20 1114.10L458.10 1121.00L451.20 1127.90L444.30 1121.00Z" fill="#fff" stroke="#aaa47a" stroke-width="1"/>
<path d="M561.30 1122.10L568.20 1129.00L561.30 1135.90L554.40 1129.00Z" fill="#fff" stroke="#aaa47a" stroke-width="1"/>
<path d="M136.00 793.00L143.40 804.30L128.60 804.30Z" fill="#2b2a8a"/>
<path d="M140.00 815.00L147.40 826.30L132.60 826.30Z" fill="#2b2a8a"/>
<path d="M146.40 828.70L153.80 840.00L139.00 840.00Z" fill="#2b2a8a"/>
<path d="M152.80 850.30L160.20 861.60L145.40 861.60Z" fill="#2b2a8a"/>
<path d="M158.60 873.20L166.00 884.50L151.20 884.50Z" fill="#2b2a8a"/>
<path d="M166.40 901.00L173.80 912.30L159.00 912.30Z" fill="#2b2a8a"/>
<path d="M174.10 931.00L181.50 942.30L166.70 942.30Z" fill="#2b2a8a"/>
<path d="M183.00 963.00L190.40 974.30L175.60 974.30Z" fill="#2b2a8a"/>
<path d="M192.80 997.50L200.20 1008.80L185.40 1008.80Z" fill="#2b2a8a"/>
<path d="M203.80 1030.50L211.20 1041.80L196.40 1041.80Z" fill="#2b2a8a"/>
<path d="M217.00 1066.80L224.40 1078.10L209.60 1078.10Z" fill="#2b2a8a"/>
<path d="M235.60 1104.00L243.00 1115.30L228.20 1115.30Z" fill="#2b2a8a"/>
<path d="M259.60 1132.00L267.00 1143.30L252.20 1143.30Z" fill="#2b2a8a"/>
<path d="M287.60 1155.00L295.00 1166.30L280.20 1166.30Z" fill="#2b2a8a"/>
<path d="M324.50 1179.60L331.90 1190.90L317.10 1190.90Z" fill="#2b2a8a"/>
<path d="M375.60 1195.80L383.00 1207.10L368.20 1207.10Z" fill="#2b2a8a"/>
<path d="M450.50 1209.50L457.90 1220.80L443.10 1220.80Z" fill="#2b2a8a"/>
<path d="M548.40 1214.90L555.80 1226.20L541.00 1226.20Z" fill="#2b2a8a"/>
<path d="M137.20 804.50L144.00 814.90L130.40 814.90Z" fill="#fff" stroke="#5f805a" stroke-width="1"/>
<path d="M144.00 824.00L150.80 834.40L137.20 834.40Z" fill="#fff" stroke="#5f805a" stroke-width="1"/>
<path d="M147.20 845.50L154.00 855.90L140.40 855.90Z" fill="#fff" stroke="#5f805a" stroke-width="1"/>
<path d="M152.60 870.70L159.40 881.10L145.80 881.10Z" fill="#fff" stroke="#5f805a" stroke-width="1"/>
<path d="M158.60 897.00L165.40 907.40L151.80 907.40Z" fill="#fff" stroke="#5f805a" stroke-width="1"/>
<path d="M165.50 926.00L172.30 936.40L158.70 936.40Z" fill="#fff" stroke="#5f805a" stroke-width="1"/>
<path d="M173.00 956.20L179.80 966.60L166.20 966.60Z" fill="#fff" stroke="#5f805a" stroke-width="1"/>
<path d="M181.80 988.10L188.60 998.50L175.00 998.50Z" fill="#fff" stroke="#5f805a" stroke-width="1"/>
<path d="M191.70 1023.30L198.50 1033.70L184.90 1033.70Z" fill="#fff" stroke="#5f805a" stroke-width="1"/>
<path d="M202.70 1055.20L209.50 1065.60L195.90 1065.60Z" fill="#fff" stroke="#5f805a" stroke-width="1"/>
<path d="M217.00 1087.50L223.80 1097.90L210.20 1097.90Z" fill="#fff" stroke="#5f805a" stroke-width="1"/>
<path d="M236.00 1121.50L242.80 1131.90L229.20 1131.90Z" fill="#fff" stroke="#5f805a" stroke-width="1"/>
<path d="M259.00 1144.50L265.80 1154.90L252.20 1154.90Z" fill="#fff" stroke="#5f805a" stroke-width="1"/>
<path d="M289.00 1166.50L295.80 1176.90L282.20 1176.90Z" fill="#fff" stroke="#5f805a" stroke-width="1"/>
<path d="M328.00 1180.80L334.80 1191.20L321.20 1191.20Z" fill="#fff" stroke="#5f805a" stroke-width="1"/>
<path d="M376.70 1198.80L383.50 1209.20L369.90 1209.20Z" fill="#fff" stroke="#5f805a" stroke-width="1"/>
<path d="M446.90 1219.70L453.70 1230.10L440.10 1230.10Z" fill="#fff" stroke="#5f805a" stroke-width="1"/>
<path d="M137.20 834.10L144.60 822.80L129.80 822.80Z" fill="#c8161d"/>
<path d="M142.00 852.50L149.40 841.20L134.60 841.20Z" fill="#c8161d"/>
<path d="M146.80 873.70L154.20 862.40L139.40 862.40Z" fill="#c8161d"/>
<path d="M152.60 898.00L160.00 886.70L145.20 886.70Z" fill="#c8161d"/>
<path d="M159.20 923.70L166.60 912.40L151.80 912.40Z" fill="#c8161d"/>
<path d="M165.50 951.00L172.90 939.70L158.10 939.70Z" fill="#c8161d"/>
<path d="M174.00 980.70L181.40 969.40L166.60 969.40Z" fill="#c8161d"/>
<path d="M183.00 1014.80L190.40 1003.50L175.60 1003.50Z" fill="#c8161d"/>
<path d="M192.00 1047.00L199.40 1035.70L184.60 1035.70Z" fill="#c8161d"/>
<path d="M203.00 1084.00L210.40 1072.70L195.60 1072.70Z" fill="#c8161d"/>
<path d="M217.00 1103.50L224.40 1092.20L209.60 1092.20Z" fill="#c8161d"/>
<path d="M235.60 1131.00L243.00 1119.70L228.20 1119.70Z" fill="#c8161d"/>
<path d="M259.60 1153.00L267.00 1141.70L252.20 1141.70Z" fill="#c8161d"/>
<path d="M288.40 1172.00L295.80 1160.70L281.00 1160.70Z" fill="#c8161d"/>
<path d="M328.80 1181.70L336.20 1170.40L321.40 1170.40Z" fill="#c8161d"/>
<path d="M377.40 1204.40L384.80 1193.10L370.00 1193.10Z" fill="#c8161d"/>
<path d="M449.40 1209.00L456.80 1197.70L442.00 1197.70Z" fill="#c8161d"/>
<path d="M562.00 1199.00L569.40 1187.70L554.60 1187.70Z" fill="#c8161d"/>
</g>
<text x="131.0" y="611.9" class="s" text-anchor="middle">2.0</text>
<text x="235.0" y="611.9" class="s" text-anchor="middle">4.0</text>
<text x="339.0" y="611.9" class="s" text-anchor="middle">6.0</text>
<text x="443.0" y="611.9" class="s" text-anchor="middle">8.0</text>
<text x="547.0" y="611.9" class="s" text-anchor="middle">10.0</text>
<text x="651.0" y="611.9" class="s" text-anchor="middle">12.0</text>
<text x="57" y="60.3" class="s">10<tspan class="sup" dy="-11.3">-1</tspan></text>
<text x="57" y="125.1" class="s">10<tspan class="sup" dy="-11.3">-2</tspan></text>
<text x="57" y="189.9" class="s">10<tspan class="sup" dy="-11.3">-3</tspan></text>
<text x="57" y="254.7" class="s">10<tspan class="sup" dy="-11.3">-4</tspan></text>
<text x="57" y="319.4" class="s">10<tspan class="sup" dy="-11.3">-5</tspan></text>
<text x="57" y="384.2" class="s">10<tspan class="sup" dy="-11.3">-6</tspan></text>
<text x="57" y="449.0" class="s">10<tspan class="sup" dy="-11.3">-7</tspan></text>
<text x="57" y="513.8" class="s">10<tspan class="sup" dy="-11.3">-8</tspan></text>
<text x="57" y="578.6" class="s">10<tspan class="sup" dy="-11.3">-9</tspan></text>
<text x="131.2" y="1289.0" class="s" text-anchor="middle">2.0</text>
<text x="234.2" y="1289.0" class="s" text-anchor="middle">4.0</text>
<text x="337.1" y="1289.0" class="s" text-anchor="middle">6.0</text>
<text x="440.1" y="1289.0" class="s" text-anchor="middle">8.0</text>
<text x="543.0" y="1289.0" class="s" text-anchor="middle">10.0</text>
<text x="646.0" y="1289.0" class="s" text-anchor="middle">12.0</text>
<text x="57" y="741.4" class="s">10<tspan class="sup" dy="-11.3">-1</tspan></text>
<text x="57" y="805.7" class="s">10<tspan class="sup" dy="-11.3">-2</tspan></text>
<text x="57" y="870.0" class="s">10<tspan class="sup" dy="-11.3">-3</tspan></text>
<text x="57" y="934.3" class="s">10<tspan class="sup" dy="-11.3">-4</tspan></text>
<text x="57" y="998.5" class="s">10<tspan class="sup" dy="-11.3">-5</tspan></text>
<text x="57" y="1062.8" class="s">10<tspan class="sup" dy="-11.3">-6</tspan></text>
<text x="57" y="1127.1" class="s">10<tspan class="sup" dy="-11.3">-7</tspan></text>
<text x="57" y="1191.4" class="s">10<tspan class="sup" dy="-11.3">-8</tspan></text>
<text x="57" y="1255.7" class="s">10<tspan class="sup" dy="-11.3">-9</tspan></text>
<text x="397" y="657.4" class="s" text-anchor="middle">1000/T (1/K)</text>
<text x="391" y="1334.7" class="s" text-anchor="middle">1000/T (1/K)</text>
<text x="263.5" y="29" class="ss">(a)</text><text x="306" y="31.5" class="s" style="font-size:32.8px">Ga-face/Ga-face</text>
<text x="265" y="712" class="ss">(b)</text><text x="318" y="714" class="s">N-face/N-face</text>
<text transform="translate(34,315) rotate(-90)" class="s" text-anchor="middle">G<tspan class="sub" dy="8.5">0</tspan><tspan dy="-8.5">/T (1/(Ωcm</tspan><tspan class="sup" dy="-12">2</tspan><tspan dy="12">K))</tspan></text>
<text transform="translate(34,990) rotate(-90)" class="s" text-anchor="middle">G<tspan class="sub" dy="8.5">0</tspan><tspan dy="-8.5">/T (1/(Ωcm</tspan><tspan class="sup" dy="-12">2</tspan><tspan dy="12">K))</tspan></text>
</svg></body></html>
